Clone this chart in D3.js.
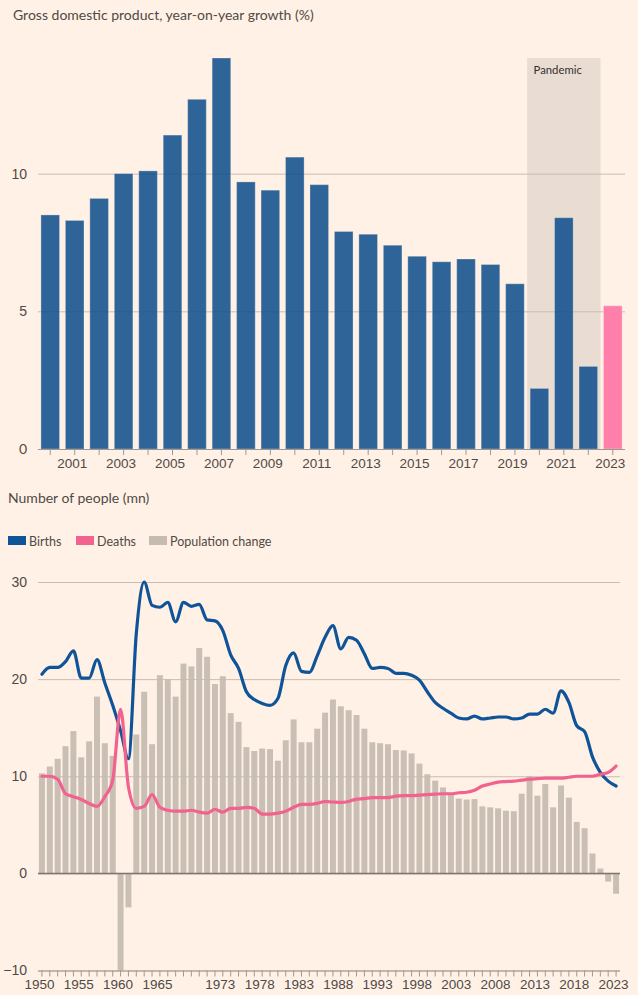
<!DOCTYPE html>
<html>
<head>
<meta charset="utf-8">
<script src="https://cdn.jsdelivr.net/npm/d3@7"></script>
<style>
  html, body { margin: 0; padding: 0; background: #fff1e5; }
  svg { display: block; font-family: Lato, sans-serif; }
  text { fill: #4f4a47; }
</style>
</head>
<body>
<svg id="chart" width="638" height="995"></svg>
<script>
// top chart
const gdpYears = [2000, 2001, 2002, 2003, 2004, 2005, 2006, 2007, 2008, 2009, 2010, 2011,
  2012, 2013, 2014, 2015, 2016, 2017, 2018, 2019, 2020, 2021, 2022, 2023]
const gdpGrowth = [8.5, 8.3, 9.1, 10.0, 10.1, 11.4, 12.7, 14.2, 9.7, 9.4, 10.6, 9.6,
  7.9, 7.8, 7.4, 7.0, 6.8, 6.9, 6.7, 6.0, 2.2, 8.4, 3.0, 5.2]
const gdpYTicks = [0, 5, 10]
const gdpXLabels = [2001, 2003, 2005, 2007, 2009, 2011, 2013, 2015, 2017, 2019, 2021, 2023]
const pandemicYears = [2020, 2022]
const highlightYear = 2023

// bottom chart
const popYears = [1950, 1951, 1952, 1953, 1954, 1955, 1956, 1957, 1958, 1959,
  1960, 1961, 1962, 1963, 1964, 1965, 1966, 1967, 1968, 1969,
  1970, 1971, 1972, 1973, 1974, 1975, 1976, 1977, 1978, 1979,
  1980, 1981, 1982, 1983, 1984, 1985, 1986, 1987, 1988, 1989,
  1990, 1991, 1992, 1993, 1994, 1995, 1996, 1997, 1998, 1999,
  2000, 2001, 2002, 2003, 2004, 2005, 2006, 2007, 2008, 2009,
  2010, 2011, 2012, 2013, 2014, 2015, 2016, 2017, 2018, 2019,
  2020, 2021, 2022, 2023]
const births = [20.5, 21.2, 21.2, 21.8, 22.9, 20.1, 20.1, 22.0, 19.6, 17.3,
  14.7, 11.8, 24.7, 30.0, 27.6, 27.4, 27.9, 25.9, 27.9, 27.5,
  27.7, 26.1, 26.0, 25.0, 22.5, 21.1, 18.7, 17.9, 17.5, 17.3,
  18.0, 21.4, 22.7, 20.8, 20.7, 22.4, 24.3, 25.5, 23.1, 24.3,
  24.0, 22.6, 21.1, 21.2, 21.1, 20.6, 20.6, 20.4, 19.9, 18.7,
  17.6, 17.0, 16.5, 16.0, 15.9, 16.2, 15.9, 16.0, 16.1, 16.1,
  15.9, 16.0, 16.4, 16.4, 16.9, 16.5, 18.8, 17.6, 15.2, 14.6,
  12.0, 10.4, 9.5, 9.0]
const deaths = [10.0, 10.0, 9.7, 8.2, 7.9, 7.6, 7.2, 6.9, 7.9, 9.6,
  16.9, 8.9, 6.7, 6.9, 8.1, 6.8, 6.5, 6.4, 6.4, 6.5,
  6.3, 6.2, 6.6, 6.3, 6.7, 6.7, 6.8, 6.7, 6.1, 6.1,
  6.2, 6.4, 6.8, 7.1, 7.1, 7.2, 7.4, 7.35, 7.3, 7.4,
  7.65, 7.7, 7.8, 7.8, 7.8, 7.95, 8.0, 8.0, 8.05, 8.1,
  8.15, 8.2, 8.2, 8.3, 8.35, 8.55, 9.0, 9.2, 9.4, 9.45,
  9.5, 9.6, 9.7, 9.75, 9.8, 9.8, 9.8, 9.9, 10.0, 10.0,
  10.0, 10.2, 10.4, 11.05]
const popChange = [10.3, 11.0, 11.8, 13.1, 14.65, 11.95, 13.6, 18.2, 13.4, 12.1,
  -10.0, -3.5, 14.3, 18.7, 13.3, 20.4, 20.0, 18.2, 21.6, 21.3,
  23.2, 22.3, 19.5, 20.3, 16.5, 15.6, 13.0, 12.6, 12.85, 12.8,
  11.6, 13.7, 15.85, 13.5, 13.5, 14.9, 16.55, 17.9, 17.2, 16.8,
  16.3, 14.9, 13.5, 13.4, 13.3, 12.7, 12.65, 12.35, 11.3, 10.2,
  9.55, 8.85, 8.1, 7.7, 7.6, 7.65, 6.9, 6.8, 6.7, 6.45,
  6.4, 8.2, 10.0, 8.0, 9.2, 6.8, 9.05, 7.8, 5.3, 4.65,
  2.05, 0.5, -0.85, -2.1]
const popYTicks = [-10, 0, 10, 20, 30]
const popXLabels = [1950, 1955, 1960, 1965, 1973, 1978, 1983, 1988, 1993, 1998, 2003, 2008, 2013, 2018, 2023]

const legendNames = ["Births", "Deaths", "Population change"]
const legendColors = ["#0f5499", "#f2628f", "#c6bbb0"]

const svg = d3.select("#chart")

function yAxis(g, y, right) {
    g.call(d3.axisLeft(y).tickValues(y.ticksList).tickSize(0).tickPadding(11))
    g.select(".domain").remove()
    g.selectAll("text").style("font-size", "14px").attr("fill", null)
    g.selectAll(".tick").append("line")
        .attr("x1", 0)
        .attr("x2", right)
        .attr("stroke", "#c9bcb0")
        .attr("stroke-width", 1)
}

function xAxis(g, x, labels) {
    g.call(d3.axisBottom(x).tickSize(6).tickPadding(3).tickFormat(d => labels.includes(d) ? d : ""))
    g.select(".domain").attr("stroke", "#a09890").attr("d", `M${x.range()[0]},0.5H${x.range()[1]}`)
    g.selectAll(".tick line").attr("stroke", "#a09890")
    g.selectAll("text").style("font-size", "13.5px").attr("fill", null).attr("dx", -2.5)
}

// gdp chart
const x1 = d3.scaleBand().domain(gdpYears).range([38, 625]).paddingInner(0.24).paddingOuter(0.12)
const y1 = d3.scaleLinear().domain([0, d3.max(gdpGrowth)]).range([449, 58])
y1.ticksList = gdpYTicks

svg.append("text")
    .attr("x", 13).attr("y", 20)
    .style("font-size", "14px")
    .text("Gross domestic product, year-on-year growth (%)")

const bandGap = x1.step() - x1.bandwidth()
svg.append("rect")
    .attr("x", x1(pandemicYears[0]) - bandGap / 2)
    .attr("width", x1(pandemicYears[1]) - x1(pandemicYears[0]) + x1.step())
    .attr("y", y1(d3.max(gdpGrowth)))
    .attr("height", y1(0) - y1(d3.max(gdpGrowth)))
    .attr("fill", "#e9ddd3")

svg.append("text")
    .attr("x", x1(pandemicYears[0]) + 3.5)
    .attr("y", 74)
    .style("font-size", "11.3px")
    .style("fill", "#33302e")
    .text("Pandemic")

svg.append("g")
    .attr("transform", `translate(38,0)`)
    .call(g => {
        const shifted = y1.copy()
        shifted.ticksList = gdpYTicks.filter(d => d > 0)
        yAxis(g, shifted, 587)
    })

svg.append("text")
    .attr("x", 27).attr("y", y1(0) + 5)
    .attr("text-anchor", "end")
    .style("font-size", "14px")
    .text(0)

svg.append("g")
    .selectAll("rect")
    .data(gdpYears)
    .join("rect")
    .attr("x", d => x1(d))
    .attr("width", x1.bandwidth())
    .attr("y", (d, i) => y1(gdpGrowth[i]))
    .attr("height", (d, i) => y1(0) - y1(gdpGrowth[i]))
    .attr("fill", d => d === highlightYear ? "#ff7faa" : "#0a4b8c")
    .attr("fill-opacity", d => d === highlightYear ? 1 : 0.85)
    .attr("stroke", "#fff1e5")
    .attr("stroke-opacity", 0.3)

svg.append("g")
    .attr("transform", `translate(0,${y1(0)})`)
    .call(g => xAxis(g, x1, gdpXLabels))

// population chart
svg.append("text")
    .attr("x", 8).attr("y", 503)
    .style("font-size", "14px")
    .text("Number of people (mn)")

const legend = svg.append("g")
const legendX = [8, 76, 149]
legendNames.forEach((name, i) => {
    legend.append("rect")
        .attr("x", legendX[i]).attr("y", 536)
        .attr("width", 18).attr("height", 9)
        .attr("fill", legendColors[i])
    legend.append("text")
        .attr("x", legendX[i] + 21).attr("y", 546)
        .style("font-size", "12.5px")
        .text(name)
})

const x2 = d3.scaleBand().domain(popYears).range([38, 620]).paddingInner(0.24).paddingOuter(0.12)
const y2 = d3.scaleLinear().domain([-10, 30]).range([970.5, 582])
y2.ticksList = popYTicks

svg.append("g")
    .attr("transform", `translate(38,0)`)
    .call(g => yAxis(g, y2, 582))

svg.append("g")
    .selectAll("rect")
    .data(popYears)
    .join("rect")
    .attr("x", d => x2(d))
    .attr("width", x2.bandwidth())
    .attr("y", (d, i) => y2(Math.max(0, popChange[i])))
    .attr("height", (d, i) => Math.abs(y2(popChange[i]) - y2(0)))
    .attr("fill", "#c6bbb0")
    .attr("fill-opacity", 0.92)

svg.append("line")
    .attr("x1", 38).attr("x2", 620)
    .attr("y1", y2(0)).attr("y2", y2(0))
    .attr("stroke", "#7d7570")
    .attr("stroke-width", 1.5)

const lineFor = values => d3.line()
    .x(d => x2(d) + x2.bandwidth() / 2)
    .y((d, i) => y2(values[i]))
    .curve(d3.curveMonotoneX)

svg.append("path")
    .attr("d", lineFor(births)(popYears))
    .attr("fill", "none")
    .attr("stroke", "#0f5499")
    .attr("stroke-width", 3.2)
    .attr("stroke-linecap", "round")

svg.append("path")
    .attr("d", lineFor(deaths)(popYears))
    .attr("fill", "none")
    .attr("stroke", "#f2628f")
    .attr("stroke-width", 3.2)
    .attr("stroke-linecap", "round")

svg.append("g")
    .attr("transform", `translate(0,${y2(-10)})`)
    .call(g => xAxis(g, x2, popXLabels))
</script>
</body>
</html>
